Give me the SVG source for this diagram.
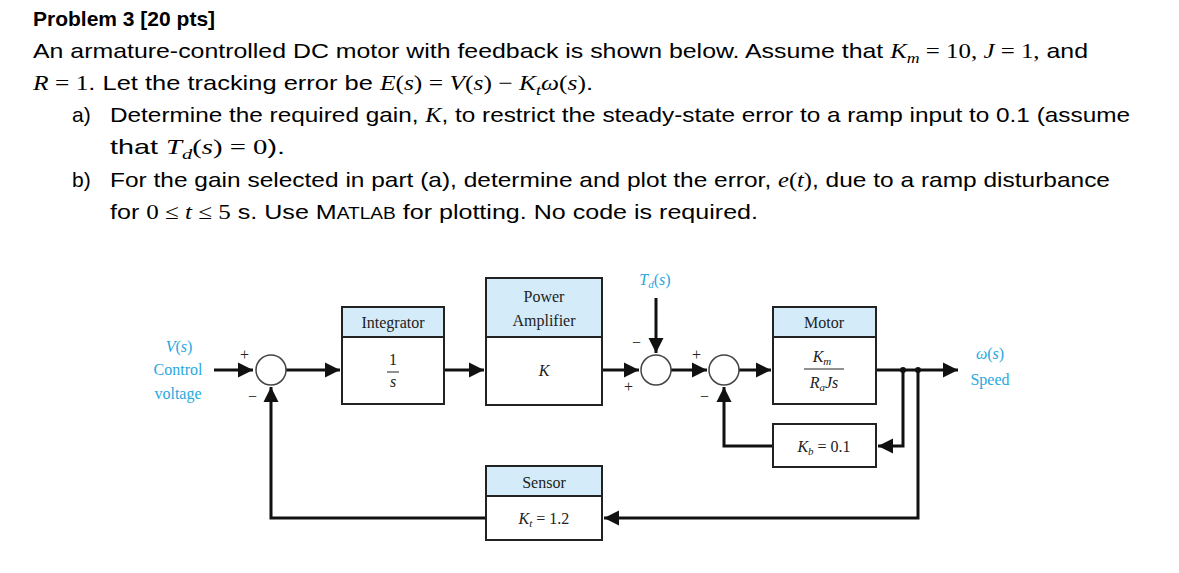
<svg xmlns="http://www.w3.org/2000/svg" width="1179" height="573" viewBox="0 0 1179 573">
<style>
.t{font-family:"Liberation Sans",Arial,sans-serif;font-size:21px;fill:#000}
.m{font-family:"Liberation Serif",serif;font-style:italic}
.r{font-family:"Liberation Serif",serif;font-style:normal}
.d{font-family:"Liberation Serif",serif;font-size:16px;fill:#222}
.b{fill:#29a8e0}
.box{fill:#fff;stroke:#222;stroke-width:2}
.hd{fill:#d4ecf9;stroke:#222;stroke-width:2}
.ln{fill:none;stroke:#111;stroke-width:3}
.sj{fill:#fff;stroke:#444;stroke-width:1.5}
</style>
<defs><marker id="a" markerWidth="6" markerHeight="6" refX="5" refY="3" orient="auto" markerUnits="strokeWidth"><path d="M0,0.5 L5,3 L0,5.5 Z" fill="#111"/></marker></defs>
<rect width="1179" height="573" fill="#fff"/>
<g id="problem">
<text class="t" x="33" y="26" font-weight="bold">Problem 3 [20 pts]</text>
<text class="t" x="33" y="58" textLength="1055" lengthAdjust="spacingAndGlyphs">An armature-controlled DC motor with feedback is shown below. Assume that <tspan class="m">K</tspan><tspan class="m" font-size="15" dy="5">m</tspan><tspan class="r" dy="-5"> = 10, </tspan><tspan class="m">J</tspan><tspan class="r"> = 1,</tspan> and</text>
<text class="t" x="33" y="90" textLength="560" lengthAdjust="spacingAndGlyphs"><tspan class="m">R</tspan><tspan class="r"> = 1</tspan>. Let the tracking error be <tspan class="m">E</tspan><tspan class="r">(</tspan><tspan class="m">s</tspan><tspan class="r">) = </tspan><tspan class="m">V</tspan><tspan class="r">(</tspan><tspan class="m">s</tspan><tspan class="r">) − </tspan><tspan class="m">K</tspan><tspan class="m" font-size="15" dy="5">t</tspan><tspan class="m" dy="-5">ω</tspan><tspan class="r">(</tspan><tspan class="m">s</tspan><tspan class="r">)</tspan>.</text>
<text class="t" x="72" y="122">a)</text>
<text class="t" x="110" y="122" textLength="1020" lengthAdjust="spacingAndGlyphs">Determine the required gain, <tspan class="m">K</tspan>, to restrict the steady-state error to a ramp input to 0.1 (assume</text>
<text class="t" x="110" y="154" textLength="175" lengthAdjust="spacingAndGlyphs">that <tspan class="m">T</tspan><tspan class="m" font-size="15" dy="5">d</tspan><tspan class="r" dy="-5">(</tspan><tspan class="m">s</tspan><tspan class="r">) = 0</tspan>).</text>
<text class="t" x="72" y="187">b)</text>
<text class="t" x="110" y="187" textLength="1000" lengthAdjust="spacingAndGlyphs">For the gain selected in part (a), determine and plot the error, <tspan class="m">e</tspan><tspan class="r">(</tspan><tspan class="m">t</tspan><tspan class="r">)</tspan>, due to a ramp disturbance</text>
<text class="t" x="110" y="219" textLength="648" lengthAdjust="spacingAndGlyphs">for <tspan class="r">0 ≤ </tspan><tspan class="m">t</tspan><tspan class="r"> ≤ 5</tspan> s. Use M<tspan font-size="16">ATLAB</tspan> for plotting. No code is required.</text>
</g>
<g id="connectors">
<line class="ln" x1="214" y1="370" x2="253" y2="370" marker-end="url(#a)"/>
<line class="ln" x1="286" y1="370" x2="340" y2="370" marker-end="url(#a)"/>
<line class="ln" x1="444" y1="370" x2="484" y2="370" marker-end="url(#a)"/>
<line class="ln" x1="602" y1="370" x2="639" y2="370" marker-end="url(#a)"/>
<line class="ln" x1="656" y1="298" x2="656" y2="353" marker-end="url(#a)"/>
<line class="ln" x1="671" y1="370" x2="707" y2="370" marker-end="url(#a)"/>
<line class="ln" x1="739" y1="370" x2="771" y2="370" marker-end="url(#a)"/>
<line class="ln" x1="876" y1="370" x2="958" y2="370" marker-end="url(#a)"/>
<polyline class="ln" points="903,370 903,446 878,446" marker-end="url(#a)"/>
<polyline class="ln" points="773,446 724,446 724,387" marker-end="url(#a)"/>
<polyline class="ln" points="918,370 918,518 604,518" marker-end="url(#a)"/>
<polyline class="ln" points="486,518 271,518 271,387" marker-end="url(#a)"/>
<circle cx="903" cy="370" r="3" fill="#111"/>
<circle cx="918" cy="370" r="3" fill="#111"/>
</g>
<g id="sum1"><circle class="sj" cx="271" cy="370" r="15"/><text class="d" x="240" y="360" font-size="14">+</text><text class="d" x="248" y="402" font-size="14">−</text></g>
<g id="sum2"><circle class="sj" cx="656" cy="370" r="15"/><text class="d" x="632" y="348" font-size="14">−</text><text class="d" x="624" y="392" font-size="14">+</text></g>
<g id="sum3"><circle class="sj" cx="724" cy="370" r="15"/><text class="d" x="692" y="360" font-size="14">+</text><text class="d" x="700" y="402" font-size="14">−</text></g>
<g id="input"><text class="d b" x="179" y="352" text-anchor="middle"><tspan class="m">V</tspan>(<tspan class="m">s</tspan>)</text><text class="d b" x="178" y="375" text-anchor="middle">Control</text><text class="d b" x="178" y="399" text-anchor="middle">voltage</text></g>
<g id="td"><text class="d b" x="655" y="285" text-anchor="middle"><tspan class="m">T</tspan><tspan class="m" font-size="11" dy="3">d</tspan><tspan dy="-3">(</tspan><tspan class="m">s</tspan>)</text></g>
<g id="output"><text class="d b" x="990" y="359" text-anchor="middle"><tspan class="m">ω</tspan>(<tspan class="m">s</tspan>)</text><text class="d b" x="990" y="385" text-anchor="middle">Speed</text></g>
<g id="integrator"><rect class="box" x="342" y="307" width="102" height="97"/><rect class="hd" x="342" y="307" width="102" height="30"/><text class="d" x="393" y="328" text-anchor="middle">Integrator</text><text class="d" x="393" y="365" text-anchor="middle" font-size="14">1</text><line x1="387" y1="372" x2="399" y2="372" stroke="#222"/><text class="d m" x="393" y="387" text-anchor="middle" font-size="14">s</text></g>
<g id="amplifier"><rect class="box" x="486" y="278" width="116" height="127"/><rect class="hd" x="486" y="278" width="116" height="59"/><text class="d" x="544" y="302" text-anchor="middle">Power</text><text class="d" x="544" y="326" text-anchor="middle">Amplifier</text><text class="d m" x="544" y="376" text-anchor="middle">K</text></g>
<g id="motor"><rect class="box" x="773" y="307" width="103" height="97"/><rect class="hd" x="773" y="307" width="103" height="30"/><text class="d" x="824" y="328" text-anchor="middle">Motor</text><text class="d m" x="822" y="362" text-anchor="middle">K<tspan font-size="11" dy="3">m</tspan></text><line x1="804" y1="369" x2="844" y2="369" stroke="#222"/><text class="d m" x="824" y="388" text-anchor="middle">R<tspan font-size="11" dy="3">a</tspan><tspan dy="-3">Js</tspan></text></g>
<g id="kb"><rect class="box" x="773" y="424" width="103" height="43"/><text class="d" x="824" y="452" text-anchor="middle"><tspan class="m">K</tspan><tspan class="m" font-size="11" dy="3">b</tspan><tspan dy="-3"> = 0.1</tspan></text></g>
<g id="sensor"><rect class="box" x="486" y="466" width="116" height="74"/><rect class="hd" x="486" y="466" width="116" height="30"/><text class="d" x="544" y="488" text-anchor="middle">Sensor</text><text class="d" x="544" y="524" text-anchor="middle"><tspan class="m">K</tspan><tspan class="m" font-size="11" dy="3">t</tspan><tspan dy="-3"> = 1.2</tspan></text></g>
</svg>
